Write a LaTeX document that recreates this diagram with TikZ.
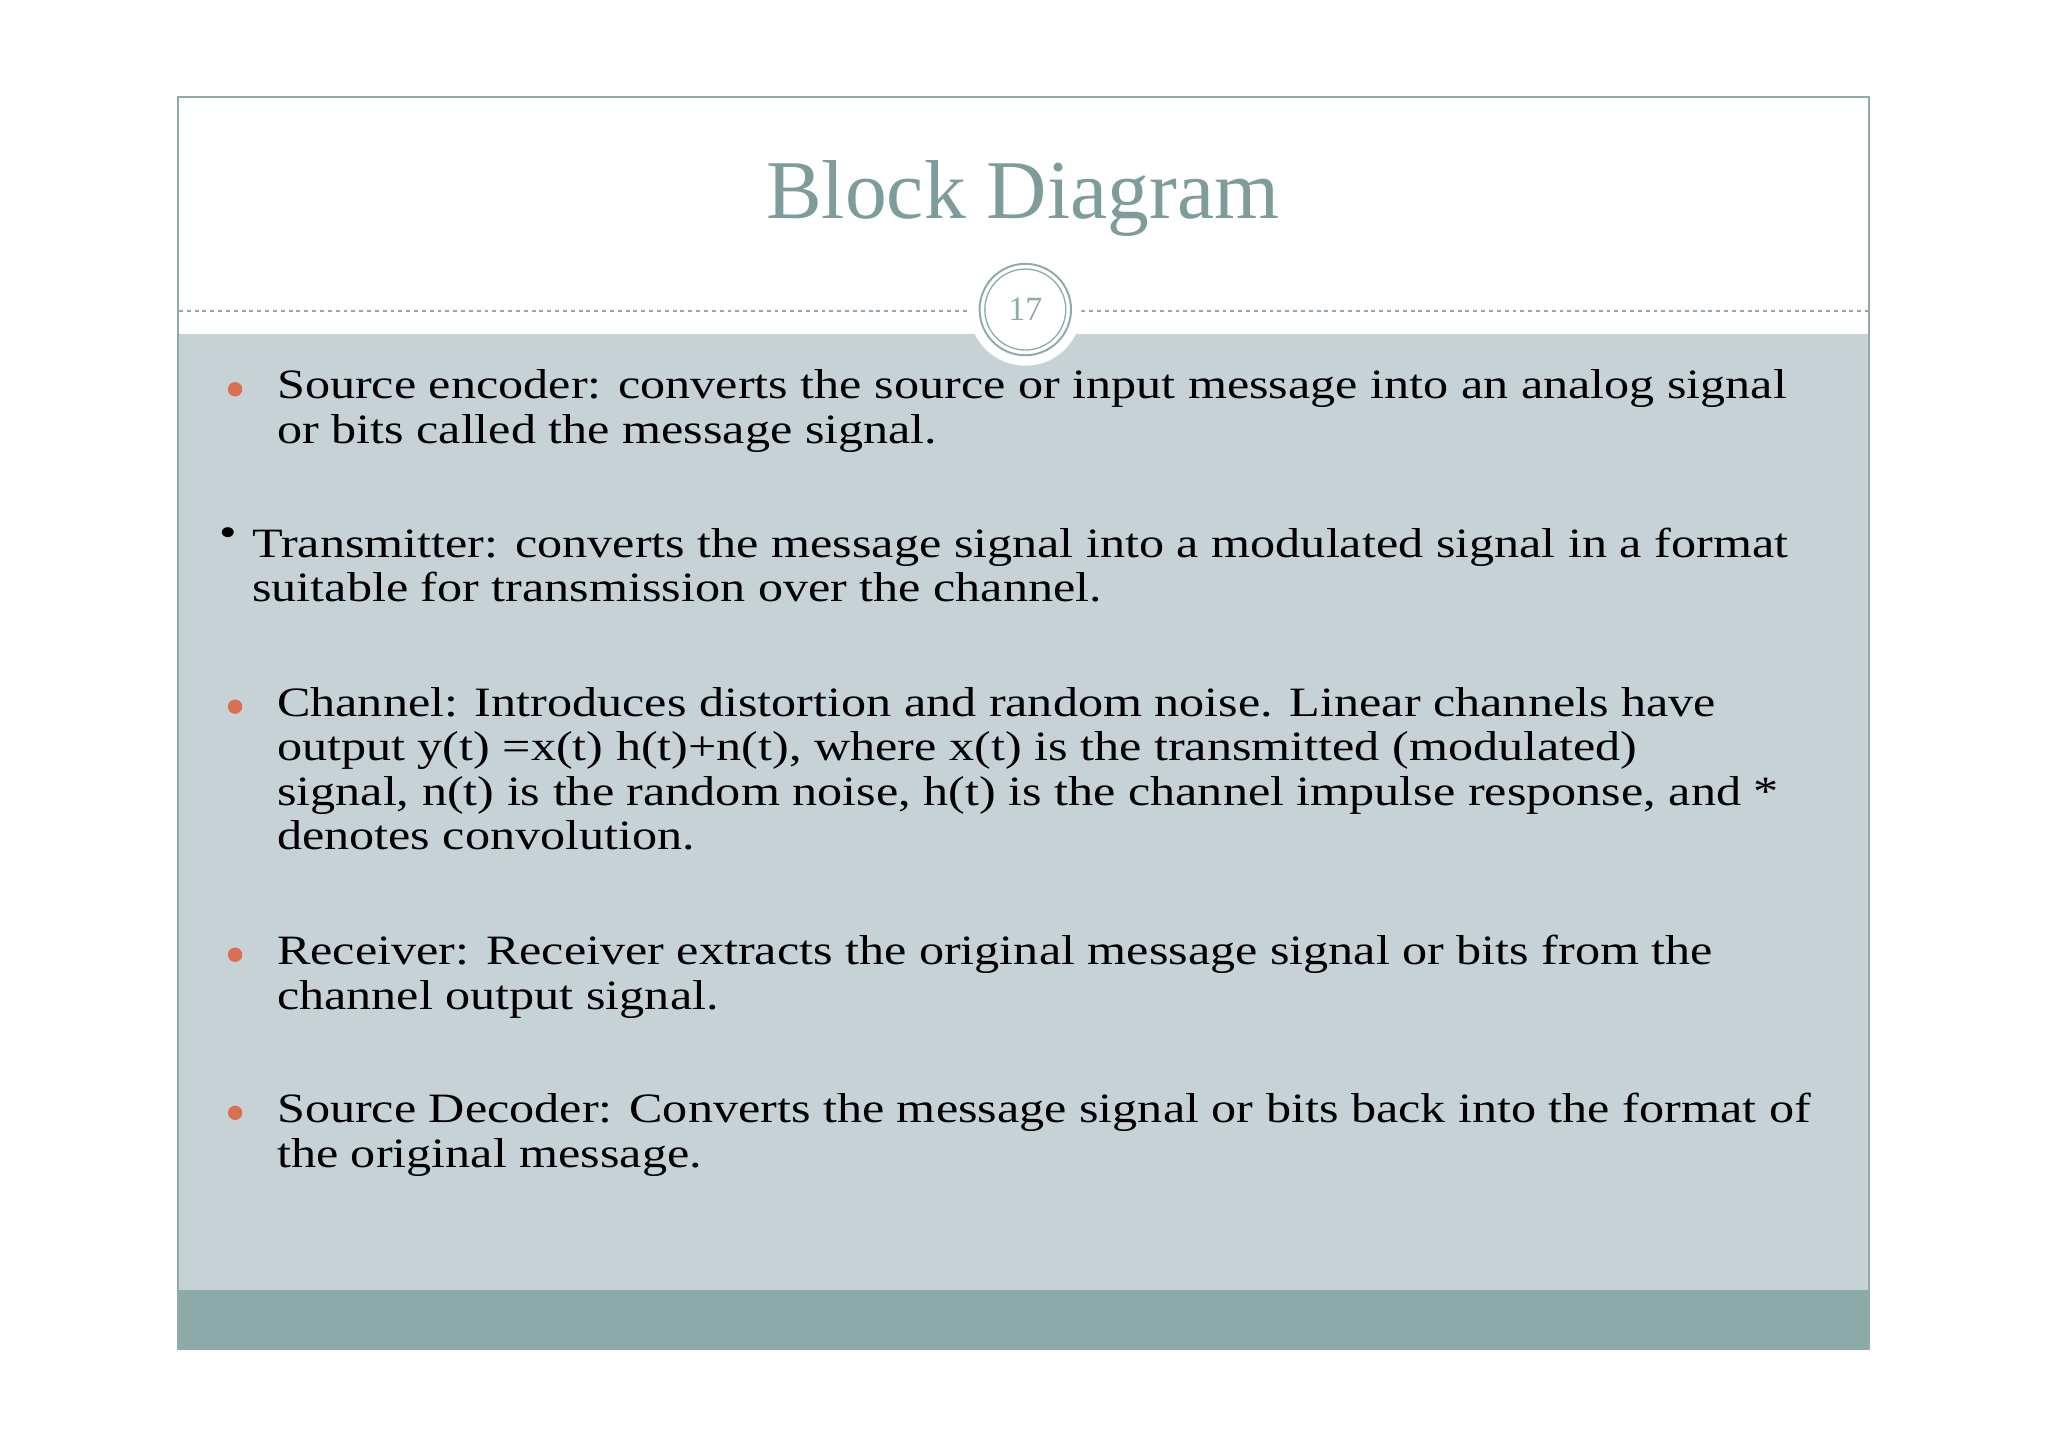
\documentclass[tikz,border=0pt]{standalone}
\usepackage{fontspec}
\setmainfont{Liberation Serif}
\newfontfamily\widefont[FakeStretch=1.2]{Liberation Serif}
\definecolor{frame}{HTML}{8FAAAA}
\definecolor{body}{HTML}{C6D2D6}
\definecolor{band}{HTML}{8CAAAA}
\definecolor{titlec}{HTML}{7F9C9C}
\definecolor{dot}{HTML}{D9704F}
\begin{document}
\begin{tikzpicture}[x=1pt,y=-1pt,
  item/.style={anchor=north west,align=left,inner sep=0pt,font=\widefont\fontsize{32}{34}\selectfont},
  bul/.style={circle,fill=dot,inner sep=0pt,minimum size=11pt}]
\useasboundingbox (0,0) rectangle (1568,1108);
\fill[white] (0,0) rectangle (1568,1108);
\fill[body] (136,256) rectangle (1431,988);
\fill[band] (136,988) rectangle (1431,1033);
\draw[frame,line width=1.5pt] (136,74) rectangle (1431,1033);
\draw[frame,dashed,line width=1pt] (137,238) -- (742,238);
\draw[frame,dashed,line width=1pt] (828,238) -- (1430,238);
\node[circle,fill=white,minimum size=86pt,inner sep=0pt] (c0) at (785,237) {};
\node[circle,draw=frame,line width=1.5pt,minimum size=70pt,inner sep=0pt] (c1) at (785,237) {};
\node[circle,draw=frame,line width=1pt,minimum size=62pt,inner sep=0pt,text=frame,font=\fontsize{26}{26}\selectfont] (c2) at (785,237) {17};
\node[text=titlec,font=\fontsize{64}{64}\selectfont,inner sep=0pt] (title) at (783,152) {Block Diagram};
\node[bul] (b1) at (180,298) {};
\node[item] (t1) at (212,283) {Source encoder: converts the source or input message into an analog signal\\or bits called the message signal.};
\node[item] (b2) at (168,404) {•};
\node[item] (t2) at (193,404) {Transmitter: converts the message signal into a modulated signal in a format\\suitable for transmission over the channel.};
\node[bul] (b3) at (180,541) {};
\node[item] (t3) at (212,526) {Channel: Introduces distortion and random noise. Linear channels have\\output y(t) =x(t) h(t)+n(t), where x(t) is the transmitted (modulated)\\signal, n(t) is the random noise, h(t) is the channel impulse response, and *\\denotes convolution.};
\node[bul] (b4) at (180,731) {};
\node[item] (t4) at (212,716) {Receiver: Receiver extracts the original message signal or bits from the\\channel output signal.};
\node[bul] (b5) at (180,852) {};
\node[item] (t5) at (212,837) {Source Decoder: Converts the message signal or bits back into the format of\\the original message.};
\end{tikzpicture}
\end{document}
